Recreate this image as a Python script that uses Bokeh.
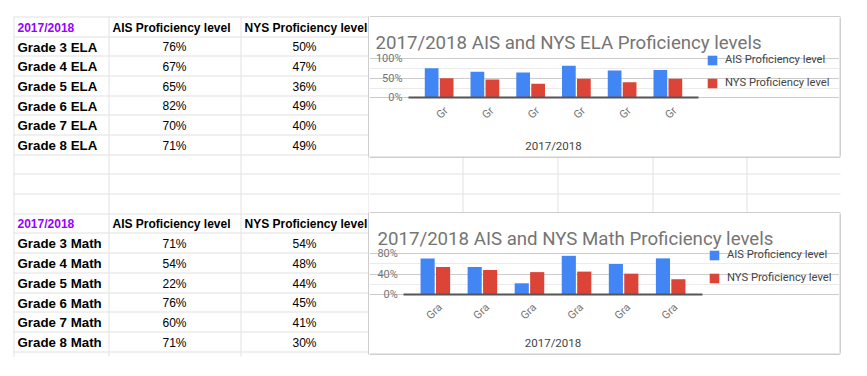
import math
from bokeh.plotting import figure
from bokeh.layouts import row, column
from bokeh.models import (Range1d, ColumnDataSource, Legend, LegendItem, Label, LabelSet,
                          LinearAxis, Grid, FixedTicker, NumeralTickFormatter)
from bokeh.core.properties import value
from bokeh.transform import dodge
from bokeh.embed import file_html
from bokeh.resources import INLINE

# ---------------- data ----------------
year_label = "2017/2018"
series_names = ["AIS Proficiency level", "NYS Proficiency level"]

ela_grades = ["Grade 3 ELA", "Grade 4 ELA", "Grade 5 ELA", "Grade 6 ELA", "Grade 7 ELA", "Grade 8 ELA"]
ela_ais = [0.76, 0.67, 0.65, 0.82, 0.70, 0.71]
ela_nys = [0.50, 0.47, 0.36, 0.49, 0.40, 0.49]
ela_title = "2017/2018 AIS and NYS ELA Proficiency levels"
ela_yticks = [0, 0.5, 1.0]
ela_yminor = [0.25, 0.75]

math_grades = ["Grade 3 Math", "Grade 4 Math", "Grade 5 Math", "Grade 6 Math", "Grade 7 Math", "Grade 8 Math"]
math_ais = [0.71, 0.54, 0.22, 0.76, 0.60, 0.71]
math_nys = [0.54, 0.48, 0.44, 0.45, 0.41, 0.30]
math_title = "2017/2018 AIS and NYS Math Proficiency levels"
math_yticks = [0, 0.4, 0.8]
math_yminor = [0.2, 0.6]

# ---------------- styles ----------------
BLUE = "#4285f4"
RED = "#db4437"
GRID = "#e2e2e2"
BORDER = "#a0a0a0"
PURPLE = "#9900ff"
CHART_FONT = "Roboto"
SHEET_FONT = "Liberation Sans"


def pct(v):
    return f"{round(v * 100)}%"


def bg_fig(x0, x1, y0, y1):
    p = figure(width=x1 - x0, height=y1 - y0, x_range=Range1d(x0, x1), y_range=Range1d(y1, y0),
               x_axis_type=None, y_axis_type=None, toolbar_location=None, output_backend="svg",
               min_border=0, outline_line_color=None,
               background_fill_color="white", border_fill_color="white")
    return p


def draw_rects(p, rects, color):
    if not rects:
        return
    p.quad(left=[r[0] for r in rects], right=[r[1] for r in rects],
           top=[r[2] for r in rects], bottom=[r[3] for r in rects],
           fill_color=color, line_color=None)


def hl(y, x0, x1):
    return (x0, x1, y, y + 1)


def vl(x, y0, y1):
    return (x, x + 1, y0, y1)


# sheet geometry (page px; the page itself has no margin)
ROW0 = 16
ROW_H = 19.68
N_ROWS = 18
COL_X = [13, 108, 240, 368]
EXTRA_COL_X = [462, 557, 652, 746]
SHEET_RIGHT = 840
SHEET_BOTTOM = 356
PAGE_W, PAGE_H = 859, 368


def row_y(k):
    return int(round(ROW0 + k * ROW_H))


# chart boxes (inclusive border pixels)
C1_TOP, C1_BOT = 16, 156
C2_TOP, C2_BOT = 212, 353
C_LEFT, C_RIGHT = 368, 839

# ---------------- left panel: the sheet table ----------------
L = bg_fig(0, C_LEFT + 1, 0, PAGE_H)
grid_rects = [hl(row_y(k), COL_X[0], COL_X[3]) for k in range(N_ROWS)]
grid_rects += [vl(x, ROW0, SHEET_BOTTOM) for x in COL_X[:3]]
grid_rects += [vl(C_LEFT, C1_BOT + 1, C2_TOP)]
draw_rects(L, grid_rects, GRID)
draw_rects(L, [vl(C_LEFT, C1_TOP, C1_BOT + 1), vl(C_LEFT, C2_TOP, C2_BOT + 1)], BORDER)


def row_mid(k):
    return (row_y(k) + row_y(k + 1)) / 2 + 1.0


def add_table(p, header_row, grades, ais, nys):
    p.text(x=[COL_X[0] + 4], y=[row_mid(header_row)], text=[year_label],
           text_font=value(SHEET_FONT), text_font_size=value("12px"), text_font_style="bold",
           text_color=PURPLE, text_align="left", text_baseline="middle")
    p.text(x=[COL_X[1] + 4, COL_X[2] + 4], y=[row_mid(header_row)] * 2, text=series_names,
           text_font=value(SHEET_FONT), text_font_size=value("12px"), text_font_style="bold",
           text_color="#000000", text_align="left", text_baseline="middle")
    ys = [row_mid(header_row + 1 + i) for i in range(len(grades))]
    p.text(x=[COL_X[0] + 4] * len(grades), y=ys, text=grades,
           text_font=value(SHEET_FONT), text_font_size=value("13.3px"), text_font_style="bold",
           text_color="#000000", text_align="left", text_baseline="middle")
    c1 = (COL_X[1] + COL_X[2]) / 2
    c2 = (COL_X[2] + COL_X[3]) / 2
    p.text(x=[c1] * len(grades) + [c2] * len(grades), y=ys + ys,
           text=[pct(v) for v in ais] + [pct(v) for v in nys],
           text_font=value(SHEET_FONT), text_font_size=value("12px"),
           text_color="#000000", text_align="center", text_baseline="middle")


add_table(L, 0, ela_grades, ela_ais, ela_nys)
add_table(L, 10, math_grades, math_ais, math_nys)

# ---------------- strips around the charts ----------------
RX0 = C_LEFT + 1
T = bg_fig(RX0, PAGE_W, 0, C1_TOP + 1)
draw_rects(T, [hl(C1_TOP, RX0, C_RIGHT + 1)], BORDER)

RS1 = bg_fig(C_RIGHT, PAGE_W, C1_TOP + 1, C1_BOT)
draw_rects(RS1, [vl(C_RIGHT, C1_TOP + 1, C1_BOT)], BORDER)

M = bg_fig(RX0, PAGE_W, C1_BOT, C2_TOP + 1)
m_grid = [vl(x, C1_BOT + 1, C2_TOP) for x in EXTRA_COL_X]
m_grid += [hl(row_y(k), RX0, SHEET_RIGHT) for k in range(N_ROWS) if C1_BOT < row_y(k) < C2_TOP]
draw_rects(M, m_grid, GRID)
draw_rects(M, [hl(C1_BOT, RX0, C_RIGHT + 1), hl(C2_TOP, RX0, C_RIGHT + 1)], BORDER)

RS2 = bg_fig(C_RIGHT, PAGE_W, C2_TOP + 1, C2_BOT)
draw_rects(RS2, [vl(C_RIGHT, C2_TOP + 1, C2_BOT)], BORDER)

B = bg_fig(RX0, PAGE_W, C2_BOT, PAGE_H)
draw_rects(B, [hl(C2_BOT, RX0, C_RIGHT + 1)], BORDER)


# ---------------- charts ----------------
def make_chart(grades, ais, nys, title, ymax, yticks, yminor, short_len,
               box, plot, leg_xy, title_xy, xtitle_y, lab_dx):
    bx0, by0, bx1, by1 = box          # inner chart box (page px)
    pl, pt, pr, pb = plot             # plot area (page px)
    n = len(grades)
    pad = 0.17
    x_lo, x_hi = -pad, n + pad
    ux = (pr - pl) / (x_hi - x_lo)
    uy = (pb - pt) / ymax
    xr = Range1d(x_lo - (pl - bx0) / ux, x_hi + (bx1 - pr) / ux)
    yr = Range1d(-(by1 - pb) / uy, ymax + (pt - by0) / uy)

    src = ColumnDataSource(dict(pos=[i + 0.5 for i in range(n)], grade=grades, ais=ais, nys=nys,
                                short=[g[:short_len] for g in grades], zero=[0] * n))
    p = figure(width=bx1 - bx0, height=by1 - by0, x_range=xr, y_range=yr,
               x_axis_type=None, y_axis_type=None,
               toolbar_location=None, output_backend="svg", min_border=0,
               outline_line_color=None, background_fill_color="white", border_fill_color="white")

    ticker = FixedTicker(ticks=yticks, minor_ticks=yminor)
    p.add_layout(Grid(dimension=1, ticker=ticker, bounds=(x_lo, x_hi),
                      grid_line_color="#cccccc", minor_grid_line_color="#ebebeb"))

    yaxis = LinearAxis(fixed_location=x_lo, ticker=ticker, formatter=NumeralTickFormatter(format="0%"),
                       axis_line_color=None, major_tick_line_color=None, minor_tick_line_color=None,
                       major_tick_out=0, major_tick_in=0, minor_tick_out=0, minor_tick_in=0,
                       major_label_standoff=6, major_label_text_font=CHART_FONT,
                       major_label_text_font_size="11px", major_label_text_color="#757575")
    p.add_layout(yaxis, "left")

    r1 = p.vbar(x=dodge("pos", -0.164), top="ais", width=0.3, source=src,
                fill_color=BLUE, line_color=None)
    r2 = p.vbar(x=dodge("pos", 0.164), top="nys", width=0.3, source=src,
                fill_color=RED, line_color=None)

    xaxis = LinearAxis(fixed_location=0, bounds=(x_lo, x_hi), ticker=FixedTicker(ticks=[]),
                       axis_line_color="#555555", axis_line_width=2,
                       major_tick_line_color=None, minor_tick_line_color=None,
                       major_tick_out=0, major_tick_in=0, minor_tick_out=0, minor_tick_in=0)
    p.add_layout(xaxis, "below")

    p.add_layout(LabelSet(x="pos", y="zero", text="short", source=src,
                          x_offset=lab_dx, y_offset=-11, angle=math.pi / 4,
                          text_align="right", text_baseline="middle",
                          text_font=value(CHART_FONT), text_font_size=value("11px"),
                          text_color="#757575"))

    p.add_layout(Label(x=n / 2, y=xtitle_y, x_units="data", y_units="screen", text=year_label,
                       text_align="center", text_baseline="middle", text_font=CHART_FONT,
                       text_font_size="11.5px", text_color="#444444"))

    p.add_layout(Label(x=title_xy[0], y=title_xy[1], x_units="screen", y_units="screen", text=title,
                       text_align="left", text_baseline="alphabetic", text_font=CHART_FONT,
                       text_font_size="18.67px", text_color="#757575"))

    legend = Legend(items=[LegendItem(label=series_names[0], renderers=[r1]),
                           LegendItem(label=series_names[1], renderers=[r2])],
                    location=leg_xy, orientation="vertical",
                    border_line_color=None, background_fill_alpha=0,
                    padding=0, margin=0, spacing=10,
                    glyph_width=12, glyph_height=12, label_height=12, label_standoff=7,
                    label_text_font=CHART_FONT, label_text_font_size="11.2px",
                    label_text_color="#444444")
    p.add_layout(legend)
    return p


C1 = make_chart(ela_grades, ela_ais, ela_nys, ela_title, 1.0, ela_yticks, ela_yminor, 2,
                box=(RX0, C1_TOP + 1, C_RIGHT, C1_BOT), plot=(408, 58.3, 698, 97.3),
                leg_xy=(337, 67), title_xy=(6, 114), xtitle_y=11, lab_dx=7)
C2 = make_chart(math_grades, math_ais, math_nys, math_title, 0.8, math_yticks, math_yminor, 3,
                box=(RX0, C2_TOP + 1, C_RIGHT, C2_BOT), plot=(403.3, 253.3, 701.7, 294),
                leg_xy=(339, 69), title_xy=(8, 115), xtitle_y=11, lab_dx=5)

layout = row(L, column(T, row(C1, RS1), M, row(C2, RS2), B, spacing=0), spacing=0)

open("out.html", "w").write(file_html(layout, INLINE))
